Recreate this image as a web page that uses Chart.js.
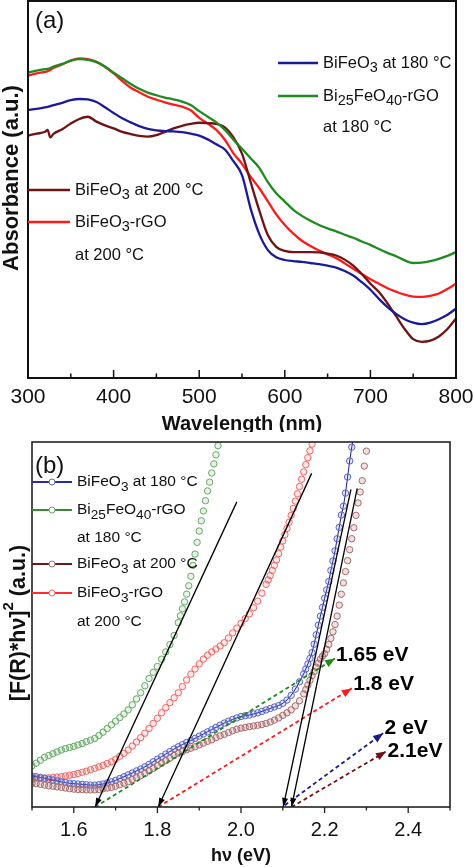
<!DOCTYPE html>
<html>
<head>
<meta charset="utf-8">
<script src="https://cdn.jsdelivr.net/npm/chart.js@4.4.1/dist/chart.umd.min.js"></script>
<style>
html, body { margin: 0; padding: 0; background: #fff; }
#wrap { position: relative; width: 474px; height: 867px; overflow: hidden; }
#chartA { position: absolute; left: 0; top: 0; }
#chartB { position: absolute; left: 0; top: 432px; background: #fff; }
</style>
</head>
<body>
<div id="wrap">
<canvas id="chartA" width="474" height="440"></canvas>
<canvas id="chartB" width="474" height="435"></canvas>
</div>
<script>
// ---- panel (a): absorbance spectra ----
const wavelengths = [300, 310, 320, 323, 326, 330, 340, 350, 360, 370, 380, 390, 400, 410, 420, 430, 440, 450, 460, 470,
	480, 490, 500, 510, 520, 530, 540, 550, 560, 570, 580, 590, 600, 610, 620, 630, 640, 650, 660, 670,
	680, 690, 700, 710, 720, 730, 740, 750, 760, 770, 780, 790, 800];
const absBlue180 = [71.1, 71.4, 71.8, 71.9, 72.1, 72.4, 73.0, 73.7, 74.0, 73.9, 73.2, 71.8, 70.3, 68.9, 67.8, 66.8, 66.1, 65.7, 65.5, 65.4,
	65.2, 64.8, 64.3, 63.3, 62.0, 60.6, 57.5, 53.8, 45.0, 38.3, 34.0, 32.0, 31.3, 31.0, 30.8, 30.5, 30.2, 29.8, 29.3, 28.4,
	27.2, 25.4, 23.4, 21.0, 18.8, 17.0, 15.6, 14.7, 14.3, 14.7, 15.6, 16.8, 18.4];
const absGreen180 = [81.0, 81.5, 81.9, 82.0, 82.2, 82.6, 83.3, 84.2, 84.6, 84.4, 83.8, 82.6, 81.0, 79.5, 78.0, 76.7, 75.7, 75.0, 74.4, 73.9,
	73.3, 72.4, 70.8, 69.3, 67.8, 65.8, 63.2, 60.8, 58.3, 55.8, 52.0, 49.0, 46.8, 44.6, 43.0, 41.7, 40.6, 39.7, 38.9, 38.0,
	37.2, 36.2, 35.3, 34.2, 33.2, 32.3, 31.2, 30.5, 30.6, 31.0, 31.6, 32.4, 33.4];
const absBrown200 = [64.3, 64.8, 65.3, 65.8, 63.8, 64.8, 66.0, 67.5, 68.7, 69.3, 68.0, 67.0, 66.2, 65.3, 64.7, 64.2, 64.0, 64.4, 65.3, 66.2,
	66.9, 67.4, 67.7, 67.6, 67.4, 66.5, 63.8, 59.5, 52.0, 44.6, 38.0, 34.8, 33.7, 33.4, 33.4, 33.4, 33.3, 33.0, 32.5, 31.4,
	29.8, 27.6, 25.0, 22.8, 19.8, 16.4, 13.0, 10.3, 9.6, 9.9, 11.0, 13.0, 15.8];
const absRed200 = [80.2, 80.8, 81.2, 81.4, 81.7, 82.3, 83.2, 84.2, 84.8, 84.6, 83.9, 82.5, 80.8, 78.8, 77.0, 75.8, 74.6, 73.8, 73.1, 72.5,
	72.0, 71.0, 69.0, 67.5, 65.8, 63.2, 59.6, 56.8, 53.4, 50.4, 46.9, 43.4, 40.6, 38.3, 36.4, 35.0, 33.8, 32.8, 31.8, 30.4,
	29.0, 27.6, 26.2, 25.0, 23.8, 22.9, 22.1, 21.6, 21.5, 21.8, 22.4, 23.6, 25.0];

// ---- panel (b): [F(R)*hv]^2 vs photon energy ----
const hvTicks = [1.6, 1.8, 2.0, 2.2, 2.4];

const greenHv = [1.50, 1.51, 1.52, 1.53, 1.54, 1.55, 1.56, 1.57, 1.58, 1.59, 1.60, 1.61, 1.62, 1.63, 1.64, 1.65, 1.66, 1.67, 1.68, 1.69,
	1.70, 1.71, 1.72, 1.73, 1.74, 1.75, 1.76, 1.77, 1.78, 1.79, 1.80, 1.81, 1.82, 1.83, 1.84, 1.85,
	1.855, 1.86, 1.865, 1.87, 1.875, 1.88, 1.885, 1.89, 1.895, 1.90, 1.905, 1.91, 1.915, 1.92, 1.925, 1.93, 1.935, 1.94, 1.945, 1.95];
const greenKm = [11.3, 12.0, 12.8, 13.6, 14.1, 14.6, 15.1, 15.6, 16.0, 16.3, 16.6, 17.0, 17.4, 17.9, 18.3, 18.8, 19.6, 20.5, 21.5, 22.5,
	23.5, 24.5, 25.5, 26.6, 28.0, 29.6, 31.3, 33.2, 35.2, 36.9, 38.5, 40.5, 42.5, 44.5, 47.0, 50.5,
	52.4, 54.3, 56.2, 58.3, 60.6, 63.2, 66.2, 69.3, 72.5, 75.6, 78.4, 81.1, 83.9, 86.6, 89.0, 91.5, 94.0, 96.5, 99.0, 101.5];

const redHv = [1.50, 1.51, 1.52, 1.53, 1.54, 1.55, 1.56, 1.57, 1.58, 1.59, 1.60, 1.61, 1.62, 1.63, 1.64, 1.65, 1.66, 1.67, 1.68, 1.69,
	1.70, 1.71, 1.72, 1.73, 1.74, 1.75, 1.76, 1.77, 1.78, 1.79, 1.80, 1.81, 1.82, 1.83, 1.84, 1.85, 1.86, 1.87, 1.88, 1.89,
	1.90, 1.91, 1.92, 1.93, 1.94, 1.95, 1.96, 1.97, 1.98, 1.99, 2.00, 2.01, 2.02, 2.03, 2.04, 2.05, 2.06,
	2.065, 2.07, 2.075, 2.08, 2.085, 2.09, 2.095, 2.10, 2.105, 2.11, 2.115, 2.12, 2.125, 2.13, 2.135, 2.14, 2.145, 2.15,
	2.155, 2.16, 2.165, 2.17, 2.175];
const redKm = [7.9, 7.9, 7.9, 7.9, 8.0, 8.1, 8.2, 8.3, 8.5, 8.7, 8.9, 9.2, 9.5, 9.8, 10.2, 10.6, 11.0, 11.4, 11.9, 12.4,
	13.1, 13.9, 14.7, 15.6, 16.7, 17.8, 19.0, 20.2, 21.5, 22.9, 24.3, 25.8, 27.2, 28.6, 29.9, 31.3, 33.0, 34.8, 36.4, 37.8,
	39.2, 40.5, 41.6, 42.5, 43.3, 44.1, 45.0, 46.3, 47.7, 49.0, 50.3, 51.6, 52.9, 54.6, 56.4, 58.6, 61.0,
	62.2, 63.4, 64.8, 66.2, 67.7, 69.4, 71.2, 72.9, 74.6, 76.3, 78.0, 79.9, 81.8, 83.8, 85.8, 87.8, 89.8, 91.8,
	93.8, 95.7, 97.6, 99.4, 101.0];

const blueHv = [1.50, 1.51, 1.52, 1.53, 1.54, 1.55, 1.56, 1.57, 1.58, 1.59, 1.60, 1.61, 1.62, 1.63, 1.64, 1.65, 1.66, 1.67, 1.68, 1.69,
	1.70, 1.71, 1.72, 1.73, 1.74, 1.75, 1.76, 1.77, 1.78, 1.79, 1.80, 1.81, 1.82, 1.83, 1.84, 1.85, 1.86, 1.87, 1.88, 1.89,
	1.90, 1.91, 1.92, 1.93, 1.94, 1.95, 1.96, 1.97, 1.98, 1.99, 2.00, 2.01, 2.02, 2.03, 2.04, 2.05, 2.06, 2.07, 2.08, 2.09,
	2.10, 2.11, 2.12, 2.13, 2.14, 2.15,
	2.155, 2.16, 2.165, 2.17, 2.175, 2.18, 2.185, 2.19, 2.195, 2.20, 2.205, 2.21, 2.215, 2.22, 2.225, 2.23, 2.235, 2.24,
	2.245, 2.25, 2.255, 2.26, 2.265, 2.27];
const blueKm = [8.5, 8.3, 8.1, 7.9, 7.6, 7.4, 7.1, 6.9, 6.7, 6.5, 6.4, 6.3, 6.2, 6.1, 6.0, 6.0, 6.1, 6.3, 6.6, 6.9,
	7.3, 7.8, 8.3, 8.8, 9.3, 9.9, 10.4, 11.0, 11.7, 12.4, 13.1, 13.8, 14.5, 15.2, 15.9, 16.5, 17.1, 17.7, 18.2, 18.8,
	19.4, 20.0, 20.6, 21.2, 21.8, 22.4, 23.0, 23.5, 24.0, 24.4, 24.8, 25.0, 25.2, 25.5, 25.8, 26.2, 26.6, 27.0, 27.4, 27.8,
	28.4, 29.3, 30.6, 32.3, 34.3, 36.5,
	37.8, 39.2, 40.7, 42.3, 44.6, 47.2, 49.8, 52.3, 54.7, 57.2, 59.5, 61.8, 64.8, 67.4, 70.2, 73.5, 76.6, 80.0,
	82.4, 86.0, 90.4, 94.8, 98.6, 102.0];

const brownHv = [1.50, 1.51, 1.52, 1.53, 1.54, 1.55, 1.56, 1.57, 1.58, 1.59, 1.60, 1.61, 1.62, 1.63, 1.64, 1.65, 1.66, 1.67, 1.68, 1.69,
	1.70, 1.71, 1.72, 1.73, 1.74, 1.75, 1.76, 1.77, 1.78, 1.79, 1.80, 1.81, 1.82, 1.83, 1.84, 1.85, 1.86, 1.87, 1.88, 1.89,
	1.90, 1.91, 1.92, 1.93, 1.94, 1.95, 1.96, 1.97, 1.98, 1.99, 2.00, 2.01, 2.02, 2.03, 2.04, 2.05, 2.06, 2.07, 2.08, 2.09,
	2.10, 2.11, 2.12, 2.13, 2.14,
	2.15, 2.155, 2.16, 2.165, 2.17, 2.175, 2.18, 2.185, 2.19, 2.195, 2.20, 2.205, 2.21, 2.215, 2.22, 2.225, 2.23, 2.235,
	2.24, 2.245, 2.25, 2.255, 2.26, 2.265, 2.27, 2.275, 2.28, 2.285, 2.29, 2.295, 2.30, 2.305];
const brownKm = [6.5, 6.4, 6.2, 6.0, 5.8, 5.7, 5.5, 5.4, 5.2, 5.0, 4.9, 4.8, 4.8, 4.7, 4.7, 4.7, 4.8, 5.0, 5.2, 5.4,
	5.7, 6.1, 6.5, 6.9, 7.5, 8.0, 8.6, 9.2, 9.9, 10.6, 11.3, 12.0, 12.7, 13.4, 14.1, 14.7, 15.2, 15.7, 16.1, 16.5,
	17.0, 17.5, 18.0, 18.4, 19.0, 19.5, 19.9, 20.4, 20.9, 21.3, 21.6, 21.8, 22.0, 22.2, 22.4, 22.6, 22.9, 23.3, 23.8, 24.4,
	25.1, 25.8, 26.6, 27.7, 29.1,
	31.0, 32.2, 33.4, 34.7, 36.0, 37.1, 38.3, 39.4, 40.5, 41.3, 42.0, 43.2, 44.5, 46.2, 48.0, 50.0, 52.3, 55.3,
	58.3, 61.4, 64.5, 67.5, 70.5, 73.5, 76.5, 79.9, 83.3, 86.3, 89.4, 93.4, 97.5, 101.0];

// tangent fits [x1, y1, x2(tip), y2(tip)] and band-gap arrows from the intercepts
const tangentLines = [[1.990, 83.6, 1.651, 0], [2.169, 91.4, 1.802, 0], [2.263, 87.0, 2.101, 0], [2.278, 87.3, 2.121, 0]];
const gapArrows = [[1.651, 0, 2.225, 40.7], [1.802, 0, 2.265, 32.5], [2.105, 0.5, 2.340, 20.2], [2.121, 0, 2.347, 15.2]];
const gapLabels = ['1.65 eV', '1.8 eV', '2 eV', '2.1eV'];

const FONT = "'Liberation Sans', Arial, Helvetica, sans-serif";
Chart.defaults.font.family = FONT;
Chart.defaults.color = '#000';

const C = {
	blue: '#1b1b97', green: '#1f8a1f', brown: '#6e1414', red: '#ff1a1a',
	mBlue: '#5a64c8', mGreen: '#66a866', mBrown: '#a86a6a', mRed: '#f26464'
};

function pts(xs, ys) {
	return xs.map((x, i) => ({ x: x, y: ys[i] }));
}

// text with sub/superscripts; returns width
function richText(ctx, parts, x, y, size, bold, measureOnly) {
	let cx = x;
	for (const p of parts) {
		const mode = p[1];
		const s = mode === 'sub' ? size * 0.88 : mode === 'sup' ? size * 0.7 : size;
		ctx.font = (bold ? 'bold ' : '') + s + 'px ' + FONT;
		const dy = mode === 'sub' ? size * 0.33 : mode === 'sup' ? -size * 0.55 : 0;
		if (!measureOnly) ctx.fillText(p[0], cx, y + dy);
		cx += ctx.measureText(p[0]).width;
	}
	return cx - x;
}

function drawTicks(chart, len, minorLen, dir) {
	const ctx = chart.ctx, sc = chart.scales.x, y0 = chart.chartArea.bottom;
	const vals = sc.ticks.map(t => t.value);
	const step = vals[1] - vals[0];
	ctx.beginPath();
	vals.forEach(v => {
		const x = sc.getPixelForValue(v);
		ctx.moveTo(x, y0); ctx.lineTo(x, y0 + dir * len);
	});
	for (let v = vals[0] - step / 2; v <= sc.max + 1e-9; v += step) {
		if (v < sc.min - 1e-9) continue;
		const x = sc.getPixelForValue(v);
		ctx.moveTo(x, y0); ctx.lineTo(x, y0 + dir * minorLen);
	}
	ctx.stroke();
}

function legendRows(ctx, rows, x1, x2, tx, size, marker) {
	ctx.textBaseline = 'middle';
	ctx.textAlign = 'left';
	rows.forEach(r => {
		if (r.color) {
			ctx.strokeStyle = r.color; ctx.lineWidth = marker ? 2 : 2.5;
			ctx.beginPath(); ctx.moveTo(x1, r.y); ctx.lineTo(x2, r.y); ctx.stroke();
			if (marker) {
				ctx.fillStyle = '#fff'; ctx.strokeStyle = r.mark; ctx.lineWidth = 1;
				ctx.beginPath(); ctx.arc((x1 + x2) / 2, r.y, 3, 0, Math.PI * 2); ctx.fill(); ctx.stroke();
			}
		}
		ctx.fillStyle = '#111';
		richText(ctx, r.parts, tx, r.y, size, false);
	});
}

const panelA = {
	id: 'panelA',
	afterDraw(chart) {
		const ctx = chart.ctx, a = chart.chartArea;
		ctx.save();
		ctx.strokeStyle = '#111'; ctx.lineWidth = 2;
		ctx.strokeRect(a.left, a.top, a.right - a.left, a.bottom - a.top);
		ctx.lineWidth = 1.5;
		drawTicks(chart, 8, 4.5, -1);

		ctx.fillStyle = '#111';
		ctx.textBaseline = 'alphabetic';
		ctx.textAlign = 'left';
		ctx.font = '24px ' + FONT;
		ctx.fillText('(a)', a.left + 7, 27.5);

		ctx.textAlign = 'center';
		ctx.font = 'bold 20px ' + FONT;
		ctx.fillText('Wavelength (nm)', (a.left + a.right) / 2, 430);

		ctx.save();
		ctx.translate(17.5, 178);
		ctx.rotate(-Math.PI / 2);
		ctx.font = 'bold 22px ' + FONT;
		ctx.fillText('Absorbance (a.u.)', 0, 0);
		ctx.restore();

		legendRows(ctx, [
			{ color: C.blue, y: 63, parts: [['BiFeO'], ['3', 'sub'], [' at 180 °C']] },
			{ color: C.green, y: 96, parts: [['Bi'], ['25', 'sub'], ['FeO'], ['40', 'sub'], ['-rGO']] },
			{ y: 127, parts: [['at 180 °C']] }
		], 278, 318, 323, 16.5, false);
		legendRows(ctx, [
			{ color: C.brown, y: 190, parts: [['BiFeO'], ['3', 'sub'], [' at 200 °C']] },
			{ color: C.red, y: 222, parts: [['BiFeO'], ['3', 'sub'], ['-rGO']] },
			{ y: 255, parts: [['at 200 °C']] }
		], a.left, 70, 75, 16.5, false);
		ctx.restore();
	}
};

function arrowHead(ctx, x1, y1, x2, y2, len, half, color) {
	const ang = Math.atan2(y2 - y1, x2 - x1);
	ctx.fillStyle = color;
	ctx.beginPath();
	ctx.moveTo(x2, y2);
	ctx.lineTo(x2 - len * Math.cos(ang) + half * Math.sin(ang), y2 - len * Math.sin(ang) - half * Math.cos(ang));
	ctx.lineTo(x2 - len * Math.cos(ang) - half * Math.sin(ang), y2 - len * Math.sin(ang) + half * Math.cos(ang));
	ctx.closePath();
	ctx.fill();
}

const gapColors = [C.green, C.red, '#1a1a8a', C.brown];
const labelOffsets = [[1, -3], [1.5, -4], [1.5, -5], [1.5, 0]];

const panelB = {
	id: 'panelB',
	afterDatasetsDraw(chart) {
		const ctx = chart.ctx, sx = chart.scales.x, sy = chart.scales.y;
		ctx.save();
		tangentLines.forEach(l => {
			arrowHead(ctx, sx.getPixelForValue(l[0]), sy.getPixelForValue(l[1]),
				sx.getPixelForValue(l[2]), sy.getPixelForValue(l[3]), 9, 3, '#000');
		});
		gapArrows.forEach((l, i) => {
			const x2 = sx.getPixelForValue(l[2]), y2 = sy.getPixelForValue(l[3]);
			arrowHead(ctx, sx.getPixelForValue(l[0]), sy.getPixelForValue(l[1]), x2, y2, 10, 4, gapColors[i]);
			ctx.fillStyle = '#000';
			ctx.font = 'bold 21px ' + FONT;
			ctx.textBaseline = 'middle';
			ctx.textAlign = 'left';
			ctx.fillText(gapLabels[i], x2 + labelOffsets[i][0], y2 + labelOffsets[i][1]);
		});
		ctx.restore();
	},
	afterDraw(chart) {
		const ctx = chart.ctx, a = chart.chartArea;
		ctx.save();
		ctx.strokeStyle = '#222'; ctx.lineWidth = 1.6;
		ctx.strokeRect(a.left, a.top, a.right - a.left, a.bottom - a.top);
		ctx.lineWidth = 1.3;
		drawTicks(chart, 6, 3.5, 1);

		ctx.fillStyle = '#111';
		ctx.textBaseline = 'alphabetic';
		ctx.textAlign = 'left';
		ctx.font = '24px ' + FONT;
		ctx.fillText('(b)', a.left + 3, 40.5);

		ctx.textAlign = 'center';
		ctx.font = 'bold 18px ' + FONT;
		ctx.fillText('hν (eV)', (a.left + a.right) / 2, 429);

		const yParts = [['[F(R)*hν]'], ['2', 'sup'], [' (a.u.)']];
		ctx.save();
		ctx.translate(25, 191);
		ctx.rotate(-Math.PI / 2);
		ctx.textAlign = 'left';
		const w = richText(ctx, yParts, 0, 0, 21.5, true, true);
		richText(ctx, yParts, -w / 2, 0, 21.5, true);
		ctx.restore();

		legendRows(ctx, [
			{ color: '#2a2a9a', mark: C.mBlue, y: 50, parts: [['BiFeO'], ['3', 'sub'], [' at 180 °C']] },
			{ color: '#3a8a3a', mark: C.mGreen, y: 78, parts: [['Bi'], ['25', 'sub'], ['FeO'], ['40', 'sub'], ['-rGO']] },
			{ y: 106, parts: [['at 180 °C']] },
			{ color: '#6b1a1a', mark: C.mBrown, y: 132, parts: [['BiFeO'], ['3', 'sub'], [' at 200 °C']] },
			{ color: '#ff2a2a', mark: C.mRed, y: 161, parts: [['BiFeO'], ['3', 'sub'], ['-rGO']] },
			{ y: 190, parts: [['at 200 °C']] }
		], a.left, 72, 77, 15.5, true);
		ctx.restore();
	}
};

new Chart(document.getElementById('chartA'), {
	type: 'line',
	data: {
		datasets: [
			{ label: 'BiFeO3 at 180 °C', data: pts(wavelengths, absBlue180), borderColor: C.blue },
			{ label: 'Bi25FeO40-rGO at 180 °C', data: pts(wavelengths, absGreen180), borderColor: C.green },
			{ label: 'BiFeO3 at 200 °C', data: pts(wavelengths, absBrown200), borderColor: C.brown },
			{ label: 'BiFeO3-rGO at 200 °C', data: pts(wavelengths, absRed200), borderColor: C.red }
		]
	},
	options: {
		responsive: false,
		animation: false,
		events: [],
		layout: { padding: { left: 28, right: 18, top: 1, bottom: 0 } },
		elements: {
			point: { radius: 0 },
			line: { borderWidth: 2.3, cubicInterpolationMode: 'monotone', fill: false }
		},
		plugins: { legend: { display: false }, tooltip: { enabled: false } },
		scales: {
			x: {
				type: 'linear', min: 300, max: 800,
				grid: { display: false, drawTicks: false },
				border: { display: false },
				ticks: { stepSize: 100, font: { size: 21 }, color: '#111', padding: 7, maxRotation: 0 },
				afterFit: s => { s.height = 62; s.paddingLeft = 0; s.paddingRight = 0; }
			},
			y: { display: false, min: 0, max: 100 }
		}
	},
	plugins: [panelA]
});

function seriesB(label, xs, ys, mark, fill, order, line) {
	return {
		label: label, data: pts(xs, ys), order: order,
		showLine: !!line, borderColor: line || mark, borderWidth: 1,
		pointStyle: 'circle', pointRadius: 3.2, pointBorderWidth: 1,
		pointBorderColor: mark, pointBackgroundColor: fill
	};
}

const lineSets = tangentLines.map(l => ({
	data: [{ x: l[0], y: l[1] }, { x: l[2], y: l[3] }], showLine: true, order: 0,
	borderColor: '#000', borderWidth: 1.3, pointRadius: 0
})).concat(gapArrows.map((l, i) => ({
	data: [{ x: l[0], y: l[1] }, { x: l[2], y: l[3] }], showLine: true, order: 0,
	borderColor: gapColors[i], borderWidth: 1.8, borderDash: [4, 3], pointRadius: 0
})));

new Chart(document.getElementById('chartB'), {
	type: 'scatter',
	data: {
		datasets: lineSets.concat([
			seriesB('BiFeO3 at 180 °C', blueHv, blueKm, C.mBlue, 'rgba(90,100,200,0.15)', 2, '#1a1a8c'),
			seriesB('Bi25FeO40-rGO at 180 °C', greenHv, greenKm, C.mGreen, 'rgba(102,168,102,0.15)', 3),
			seriesB('BiFeO3 at 200 °C', brownHv, brownKm, C.mBrown, 'rgba(168,106,106,0.2)', 1),
			seriesB('BiFeO3-rGO at 200 °C', redHv, redKm, C.mRed, 'rgba(242,100,100,0.15)', 4)
		])
	},
	options: {
		responsive: false,
		animation: false,
		events: [],
		layout: { padding: { left: 32, right: 24, top: 10, bottom: 0 } },
		plugins: { legend: { display: false }, tooltip: { enabled: false } },
		scales: {
			x: {
				type: 'linear', min: 1.5, max: 2.5,
				grid: { display: false, drawTicks: false },
				border: { display: false },
				ticks: { font: { size: 20 }, color: '#111', padding: 11, maxRotation: 0,
					callback: v => v.toFixed(1) },
				afterBuildTicks: s => { s.ticks = hvTicks.map(v => ({ value: v })); },
				afterFit: s => { s.height = 60; s.paddingLeft = 0; s.paddingRight = 0; }
			},
			y: { display: false, min: 0, max: 100 }
		}
	},
	plugins: [panelB]
});
</script>
</body>
</html>
